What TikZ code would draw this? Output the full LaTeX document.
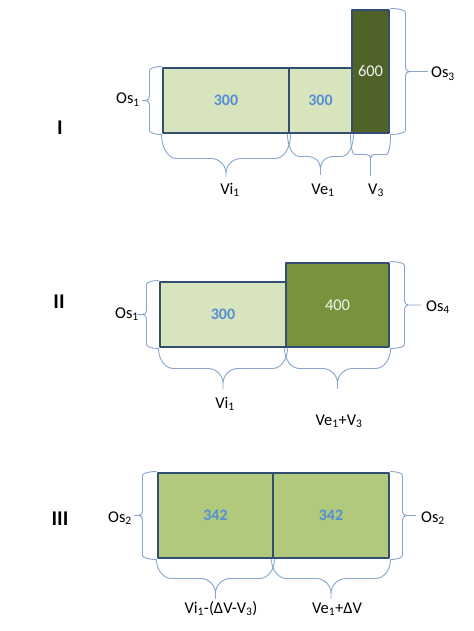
\documentclass[tikz,border=0pt]{standalone}
\usepackage{fontspec}
\setmainfont{Carlito}
\usetikzlibrary{calc}

\definecolor{palegreen}{RGB}{215,228,189}
\definecolor{darkolive}{RGB}{79,98,40}
\definecolor{midolive}{RGB}{119,147,60}
\definecolor{sagegreen}{RGB}{176,201,124}
\definecolor{cellline}{RGB}{50,78,112}
\definecolor{numblue}{RGB}{85,142,213}
\definecolor{bracecol}{RGB}{135,165,205}

\tikzset{
  cell/.style={draw=cellline, line width=1.5bp, inner sep=0pt, outer sep=1.5bp},
  bluenum/.style={text=numblue, font=\fontsize{16}{19}\selectfont\bfseries},
  whitenum/.style={text=white!95!black, font=\fontsize{16.5}{19}\selectfont},
  lbl/.style={anchor=base, inner sep=0pt, font=\fontsize{16.5}{19}\selectfont},
  roman/.style={anchor=base, inner sep=0pt, font=\fontsize{21}{25}\selectfont\bfseries},
  % geschweifte Klammer: #1 Tiefe bis Mitte, #2 Tiefe bis Spitze, #3 Radius
  curly/.style n args={3}{draw=bracecol, line width=0.9bp, to path={
    .. controls ($(\tikztostart)!{0.55*#1bp}!90:(\tikztotarget)$)
       and ($(\tikztostart)!{0.45*#3bp}!(\tikztotarget)!#1bp!90:(\tikztotarget)$)
    .. ($(\tikztostart)!#3bp!(\tikztotarget)!#1bp!90:(\tikztotarget)$)
    -- ($(\tikztostart)!0.5!(\tikztotarget)!#3bp!(\tikztostart)!#1bp!-90:(\tikztostart)$)
    .. controls ($(\tikztostart)!0.5!(\tikztotarget)!{0.45*#3bp}!(\tikztostart)!#1bp!-90:(\tikztostart)$)
       and ($(\tikztostart)!0.5!(\tikztotarget)!{#1bp+0.45*#3bp}!90:(\tikztotarget)$)
    .. ($(\tikztostart)!0.5!(\tikztotarget)!{#1bp+#3bp}!90:(\tikztotarget)$)
    -- ($(\tikztostart)!0.5!(\tikztotarget)!#2bp!90:(\tikztotarget)$)
    -- ($(\tikztostart)!0.5!(\tikztotarget)!{#1bp+#3bp}!90:(\tikztotarget)$)
    .. controls ($(\tikztostart)!0.5!(\tikztotarget)!{#1bp+0.45*#3bp}!90:(\tikztotarget)$)
       and ($(\tikztostart)!0.5!(\tikztotarget)!{0.45*#3bp}!(\tikztotarget)!#1bp!90:(\tikztotarget)$)
    .. ($(\tikztostart)!0.5!(\tikztotarget)!#3bp!(\tikztotarget)!#1bp!90:(\tikztotarget)$)
    -- ($(\tikztotarget)!#3bp!(\tikztostart)!#1bp!-90:(\tikztostart)$)
    .. controls ($(\tikztotarget)!{0.45*#3bp}!(\tikztostart)!#1bp!-90:(\tikztostart)$)
       and ($(\tikztotarget)!{0.55*#1bp}!-90:(\tikztostart)$)
    .. (\tikztotarget)}}
}

\begin{document}
\begin{tikzpicture}[x=1bp,y=-1bp,line cap=round,line join=round]
  \useasboundingbox (0,0) rectangle (474,631);

  % I
  \node[roman] (romI) at (60,135) {I};
  \node[cell, fill=palegreen, minimum width=126bp, minimum height=65bp, bluenum] (vi1a) at (226,100.5) {300};
  \node[cell, fill=palegreen, minimum width=63bp, minimum height=65bp, bluenum] (ve1a) at (320.5,100.5) {300};
  \node[cell, fill=darkolive, minimum width=37bp, minimum height=123bp, whitenum] (v3a) at (370.5,71.5) {600};
  \draw[curly={12}{19}{4}] (vi1a.south west) to (vi1a.north west);
  \draw[curly={15}{37}{4}] (v3a.north east) to (v3a.south east);
  \draw[curly={24}{42}{15}] (vi1a.south east) to (vi1a.south west);
  \draw[curly={22}{40}{12}] (ve1a.south east) to (ve1a.south west);
  \draw[curly={20}{41}{4}] (v3a.south east) to (v3a.south west);
  \node[lbl] (os1a) at (128,104) {Os\textsubscript{1}};
  \node[lbl] (os3a) at (443,78) {Os\textsubscript{3}};
  \node[lbl] (lvi1a) at (230,194) {Vi\textsubscript{1}};
  \node[lbl] (lve1a) at (323,194) {Ve\textsubscript{1}};
  \node[lbl] (lv3a) at (376,194) {V\textsubscript{3}};

  % II
  \node[roman] (romII) at (59,308) {II};
  \node[cell, fill=palegreen, minimum width=126bp, minimum height=65bp, bluenum] (vi1b) at (223,314.5) {300};
  \node[cell, fill=midolive, minimum width=103bp, minimum height=84bp, whitenum] (ve1b) at (337.5,305) {400};
  \draw[curly={12}{21}{4}] (vi1b.south west) to (vi1b.north west);
  \draw[curly={14}{30}{4}] (ve1b.north east) to (ve1b.south east);
  \draw[curly={20}{40}{15}] (vi1b.south east) to (vi1b.south west);
  \draw[curly={20}{40}{15}] (ve1b.south east) to (ve1b.south west);
  \node[lbl] (os1b) at (127,318) {Os\textsubscript{1}};
  \node[lbl] (os4b) at (438,311) {Os\textsubscript{4}};
  \node[lbl] (lvi1b) at (225,408) {Vi\textsubscript{1}};
  \node[lbl] (lve1b) at (339,425) {Ve\textsubscript{1}+V\textsubscript{3}};

  % III
  \node[roman] (romIII) at (60,525) {III};
  \node[cell, fill=sagegreen, minimum width=115bp, minimum height=85bp, bluenum] (leftc) at (215.5,515.5) {342};
  \node[cell, fill=sagegreen, minimum width=116bp, minimum height=85bp, bluenum] (rightc) at (331,515.5) {342};
  \draw[curly={14}{22}{4}] (leftc.south west) to (leftc.north west);
  \draw[curly={12}{25}{4}] (rightc.north east) to (rightc.south east);
  \draw[curly={19}{39}{15}] (leftc.south east) to (leftc.south west);
  \draw[curly={19}{39}{15}] (rightc.south east) to (rightc.south west);
  \node[lbl] (os2l) at (120,522) {Os\textsubscript{2}};
  \node[lbl] (os2r) at (433,522) {Os\textsubscript{2}};
  \node[lbl] (lleftc) at (221,613) {Vi\textsubscript{1}-(ΔV-V\textsubscript{3})};
  \node[lbl] (lrightc) at (337,613) {Ve\textsubscript{1}+ΔV};
\end{tikzpicture}
\end{document}
